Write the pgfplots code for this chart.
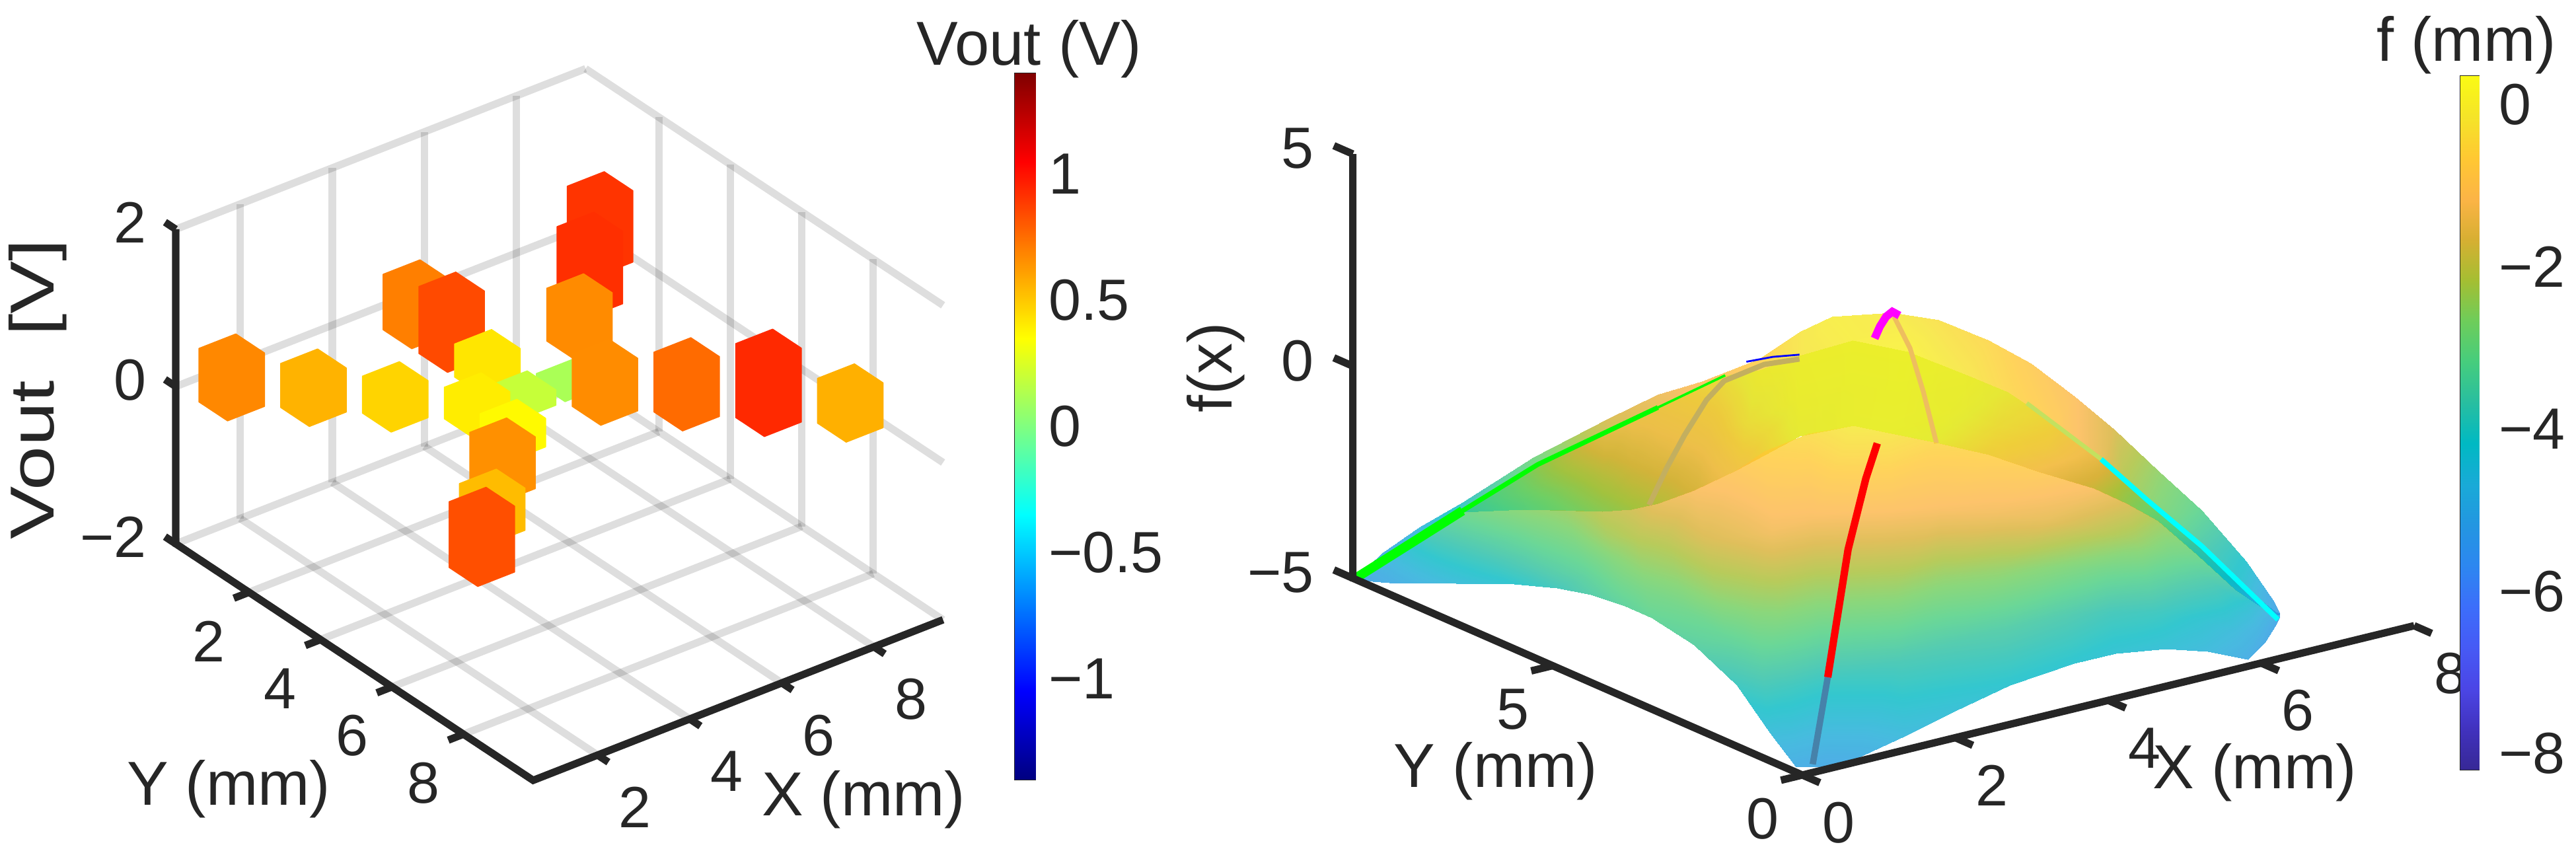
\documentclass[border=0pt]{standalone}
\usepackage{fontspec}
\setmainfont{Liberation Sans}
\usepackage{pgfplots}
\pgfplotsset{compat=1.18}
\usepgfplotslibrary{patchplots}
\definecolor{axc}{RGB}{38,38,38}
\newcommand\lbl{\fontsize{23.5}{24}\selectfont}
\newcommand\tck{\fontsize{22}{22}\selectfont}
\pgfplotsset{
  colormap={myjet}{
    rgb255=(0,0,128); rgb255=(0,0,255); rgb255=(0,128,255); rgb255=(0,255,255);
    rgb255=(128,255,128); rgb255=(255,255,0); rgb255=(255,128,0); rgb255=(255,0,0); rgb255=(128,0,0)},
  colormap={fmap}{
    rgb255=(55,40,150); rgb255=(65,50,190); rgb255=(75,70,230); rgb255=(70,90,245);
    rgb255=(60,110,250); rgb255=(45,135,240); rgb255=(35,150,225); rgb255=(25,170,215);
    rgb255=(0,185,195); rgb255=(40,190,160); rgb255=(70,205,125); rgb255=(110,205,90);
    rgb255=(165,190,50); rgb255=(215,175,50); rgb255=(252,180,70); rgb255=(255,200,50);
    rgb255=(245,228,40); rgb255=(250,250,20)},
  colormap={mmap}{
    rgb255=(55,40,150); rgb255=(65,50,190); rgb255=(75,70,230); rgb255=(70,90,245);
    rgb255=(60,110,250); rgb255=(45,135,240); rgb255=(35,150,225); rgb255=(25,170,215);
    rgb255=(0,185,195); rgb255=(40,190,160); rgb255=(70,205,125); rgb255=(110,205,90);
    rgb255=(165,190,50); rgb255=(215,175,50); rgb255=(240,190,70); rgb255=(235,205,50);
    rgb255=(225,235,45); rgb255=(235,240,30)},
  /pgfplots/table/pxmap/.style={
    x expr={0.0055472*(1.3386*\thisrow{dx}-928)+0.0126697*(1173-0.8233*\thisrow{dy}-64.2*(\thisrow{f}+5))},
    y expr={0.0193983*(1173-0.8233*\thisrow{dy}-64.2*(\thisrow{f}+5))-0.0047344*(1.3386*\thisrow{dx}-928)},
    z expr={\thisrow{f}}},
  frame3d/.style={
    clip=false, axis line style={draw=none}, major tick length=0pt,
    every tick label/.append style={font=\tck,text=axc},
    label style={font=\lbl,text=axc},
    unbounded coords=jump},
  axl/.style={draw=axc,line width=2.8pt,forget plot,no marks},
  fib/.style={forget plot,no marks,line cap=butt},
  cb/.style={scale only axis, clip=false, xmin=0,xmax=1,xtick=\empty,
    ytick pos=right, tick align=inside, major tick length=2.75pt,
    axis line style={draw=axc,line width=.4pt},
    tick style={draw=axc,line width=.4pt},
    every tick label/.append style={font=\tck,text=axc},
    title style={font=\lbl,text=axc,anchor=center}}
}
\newcommand\hexbar[3]{%
  \pgfmathsetmacro\xa{#1-0.4}\pgfmathsetmacro\xb{#1+0.4}%
  \pgfmathsetmacro\ya{#2-0.4}\pgfmathsetmacro\yb{#2+0.4}%
  \addplot3[patch,patch type=polygon,vertex count=6,shader=flat,point meta=explicit,forget plot]
    coordinates {(\xb,\ya,#3)[#3] (\xb,\yb,#3)[#3] (\xb,\yb,0)[#3] (\xa,\yb,0)[#3] (\xa,\ya,0)[#3] (\xa,\ya,#3)[#3]};
}
\begin{document}
\begin{tikzpicture}
\path[use as bounding box] (0,0) rectangle (974.75pt,322.75pt);
% ---------- left plot
\begin{axis}[frame3d, anchor=origin, at={(67.175pt,176.05pt)},
  x={(17.425pt,6.825pt)}, y={(-13.525pt,8.95pt)}, z={(0pt,29.75pt)}, y dir=reverse,
  xmin=0.6,xmax=9.5,ymin=-0.05,ymax=9.95,zmin=-2,zmax=2,
  xtick={2,4,6,8},ytick={2,4,6,8},ztick={-2,0,2},
  xticklabels={2,4,6,8},yticklabels={2,4,6,8},zticklabels={−2,0,2},
  grid=major, grid style={draw=black,opacity=0.13,line width=2.8pt},
  colormap name=myjet, point meta min=-1.4, point meta max=1.4,
  xticklabel style={anchor=center,xshift=14pt,yshift=-19.8pt},
  yticklabel style={anchor=center,xshift=-15.2pt,yshift=-18.5pt},
  zticklabel style={anchor=east,xshift=-7.5pt,yshift=2.5pt},
  xlabel={X (mm)}, ylabel={Y (mm)}, zlabel={\scalebox{1.28}[1]{Vout~~[V]}},
  xlabel style={at={(axis cs:4.71,13.9,-2)},anchor=center},
  ylabel style={at={(axis cs:-3.73,7.01,-2)},anchor=center},
  zlabel style={at={(axis cs:0.6,-3.91,-1.195)},anchor=center,rotate=0},
]
\hexbar{9}{1}{0.908}
\hexbar{8}{2}{0.923}
\hexbar{5}{1}{0.705}
\hexbar{7}{3}{0.67}
\hexbar{5}{2}{0.85}
\hexbar{5}{3}{0.42}
\hexbar{6}{4}{0.116}
\hexbar{5}{4}{0.195}
\hexbar{1}{1}{0.68}
\hexbar{6}{5}{0.668}
\hexbar{2}{2}{0.56}
\hexbar{7}{6}{0.76}
\hexbar{3}{3}{0.47}
\hexbar{8}{7}{0.94}
\hexbar{4}{4}{0.40}
\hexbar{9}{8}{0.57}
\hexbar{4}{5}{0.364}
\hexbar{3}{6}{0.657}
\hexbar{2}{7}{0.536}
\hexbar{1}{8}{0.836}
\addplot3[axl] coordinates {(0.6,-0.05,2)(0.6,-0.05,-2)(0.6,9.95,-2)(9.5,9.95,-2)};
\addplot3[axl] coordinates {(2,9.95,-2)(2,10.25,-2)(nan,nan,nan)(4,9.95,-2)(4,10.25,-2)(nan,nan,nan)(6,9.95,-2)(6,10.25,-2)(nan,nan,nan)(8,9.95,-2)(8,10.25,-2)};
\addplot3[axl] coordinates {(0.6,2,-2)(0.27,2,-2)(nan,nan,nan)(0.6,4,-2)(0.27,4,-2)(nan,nan,nan)(0.6,6,-2)(0.27,6,-2)(nan,nan,nan)(0.6,8,-2)(0.27,8,-2)};
\addplot3[axl] coordinates {(0.6,-0.05,2)(0.6,-0.35,2)(nan,nan,nan)(0.6,-0.05,0)(0.6,-0.35,0)(nan,nan,nan)(0.6,-0.05,-2)(0.6,-0.35,-2)};
\end{axis}
% ---------- left colour bar
\begin{axis}[cb, at={(384pt,27.75pt)}, anchor=south west, width=7.75pt, height=267.25pt,
  ymin=-1.4,ymax=1.4, ytick={-1,-0.5,0,0.5,1}, yticklabels={−1,−0.5,0,0.5,1},
  yticklabel style={anchor=west,xshift=1.5pt},
  colormap name=myjet, point meta min=-1.4, point meta max=1.4,
  title={Vout (V)}, title style={at={(axis description cs:0.7,1.0)},yshift=3.25pt}]
\addplot[patch,patch type=rectangle,shader=interp,point meta=y,forget plot]
  coordinates {(0,-1.4)(1,-1.4)(1,1.4)(0,1.4)};
\end{axis}
% ---------- right plot
\begin{axis}[frame3d, anchor=origin, at={(682pt,109.75pt)},
  x={(28.9375pt,7.0625pt)}, y={(-18.9pt,8.275pt)}, z={(0pt,16.05pt)},
  xmin=0,xmax=8,ymin=0,ymax=9,zmin=-5,zmax=5,
  xtick={0,2,4,6,8},ytick={0,5},ztick={-5,0,5},
  xticklabels={0,2,4,6,8},yticklabels={0,5},zticklabels={−5,0,5},
  colormap name=fmap, point meta min=-8.15, point meta max=0.35,
  xticklabel style={anchor=center,xshift=13.75pt,yshift=-18pt},
  yticklabel style={anchor=center,xshift=-15pt,yshift=-16.5pt},
  zticklabel style={anchor=east,xshift=-11.25pt,yshift=2pt},
  xlabel={X (mm)}, ylabel={Y (mm)}, zlabel={f(x)},
  xlabel style={at={(axis cs:3.85,-3.165,-5)},anchor=center},
  ylabel style={at={(axis cs:-2.5,2.31,-5)},anchor=center},
  zlabel style={at={(axis cs:0,11.75,-1.45)},anchor=center},
]
% outer (far) sheet: ridge, rim, silhouette
\addplot3[surf,shader=interp,opacity=0.8,mesh/rows=23,mesh/cols=3,mesh/ordering=x varies,point meta=\thisrow{f},forget plot]
 table[pxmap] {
dx dy f
188 1063 -5.2
188 1063 -5.2
188 1063 -5.2
228 1020 -4.8
228 1018 -4.9
218 1017 -5.0
270 980 -4.2
270 972 -4.4
260 969 -4.6
309 941 -3.6
309 939 -3.8
309 923 -4.0
378 936 -3.2
394 854 -2.9
389 840 -2.9
467 940 -2.7
470 795 -1.9
474 769 -1.7
500 937 -2.4
500 772 -1.7
502 747 -1.55
530 925 -2.2
530 749 -1.5
530 725 -1.4
571 901 -1.9
606 690 -1.0
580 701 -1.1
619 864 -1.2
645 680 -0.6
645 660 -0.7
690 802 -0.3
690 653 -0.2
690 610 -0.2
751 782 0.0
750 625 0.0
727 582 0.0
790 795 0.1
812 646 0.1
795 574 -0.1
842 813 0.0
880 690 -0.2
847 588 -0.3
904 836 -0.5
925 720 -0.5
904 626 -0.5
961 867 -1.0
980 780 -0.8
952 668 -0.8
1023 898 -1.8
1031 844 -1.5
1001 729 -1.1
1060 925 -2.4
1060 885 -2.2
1046 790 -1.7
1095 957 -3.0
1100 945 -2.8
1096 866 -2.5
1140 1020 -3.8
1145 1004 -3.6
1145 939 -3.2
1183 1085 -4.4
1190 1075 -4.3
1195 1032 -4.2
1225 1130 -5.1
1228 1125 -5.1
1225 1103 -5.1
1233 1130 -5.2
1233 1128 -5.2
1233 1127 -5.2
};
% middle sheet: ridge to rim
\addplot3[surf,shader=interp,opacity=0.8,mesh/rows=23,mesh/cols=3,mesh/ordering=x varies,point meta=\thisrow{f},colormap name=mmap,forget plot]
 table[pxmap] {
dx dy f
188 1063 -5.2
188 1063 -5.2
188 1063 -5.2
228 1020 -4.7
228 1019 -4.7
228 1018 -4.7
270 980 -4.1
270 976 -4.1
270 972 -4.1
309 941 -3.5
309 940 -3.5
309 939 -3.5
378 936 -3.0
386 895 -2.6
394 854 -2.3
467 940 -2.4
468 868 -1.9
470 795 -1.3
500 937 -2.2
500 855 -1.65
500 772 -1.1
530 925 -2.0
530 837 -1.4
530 749 -0.9
571 901 -1.6
588 795 -0.9
606 690 -0.3
619 864 -0.9
632 772 -0.3
645 680 0.1
690 802 -0.1
690 728 0.1
690 653 0.2
751 782 0.0
750 704 0.1
750 625 0.2
790 795 0.0
801 720 0.1
812 646 0.2
842 813 -0.2
861 752 0.0
880 690 0.1
904 836 -0.7
915 778 -0.4
925 720 -0.2
961 867 -1.2
970 823 -0.8
980 780 -0.6
1023 898 -1.8
1027 871 -1.6
1031 844 -1.4
1060 925 -2.4
1060 905 -2.3
1060 885 -2.1
1095 957 -3.0
1098 951 -2.9
1100 945 -2.8
1140 1020 -3.8
1143 1012 -3.7
1145 1004 -3.6
1183 1085 -4.4
1186 1080 -4.3
1190 1075 -4.3
1225 1130 -5.1
1226 1128 -5.1
1228 1125 -5.1
1233 1130 -5.2
1233 1128 -5.2
1233 1127 -5.2
};
% grey fibres seen through the surface
\addplot3[fib,draw={rgb,255:red,195;green,175;blue,95},line width=2pt] table[pxmap] {
dx dy f
520 928 -2
540 860 -2
560 800 -2
585 735 -2
605 700 -2
650 670 -2
690 660 -2
};
\addplot3[fib,draw={rgb,255:red,238;green,190;blue,95},line width=1.8pt] table[pxmap] {
dx dy f
845 815 -2
830 720 -2
815 640 -2
797 582 -2
};
% front sheet: lower edge to ridge
\addplot3[surf,shader=interp,opacity=0.8,mesh/rows=25,mesh/cols=5,mesh/ordering=x varies,point meta=\thisrow{f},forget plot]
 table[pxmap] {
dx dy f
188 1066 -5.2
188 1065 -5.2
188 1065 -5.2
188 1064 -5.2
188 1063 -5.2
226 1071 -5.0
226 1058 -4.9
227 1046 -4.8
228 1033 -4.7
228 1020 -4.6
302 1073 -4.5
294 1050 -4.3
286 1026 -4.1
278 1003 -3.9
270 980 -3.7
359 1073 -4.2
346 1040 -3.9
334 1007 -3.6
322 974 -3.3
309 941 -3.0
416 1081 -3.8
406 1045 -3.5
397 1008 -3.2
388 972 -2.9
378 936 -2.6
454 1093 -3.5
447 1054 -3.3
440 1016 -3.0
432 977 -2.7
425 938 -2.4
492 1114 -3.3
486 1070 -3.0
480 1027 -2.7
473 984 -2.3
467 940 -2.0
523 1136 -3.2
517 1086 -2.9
512 1036 -2.5
506 987 -2.1
500 937 -1.8
571 1185 -3.4
561 1120 -3.0
550 1055 -2.5
540 990 -2.0
530 925 -1.5
619 1260 -3.9
607 1170 -3.2
595 1080 -2.4
583 991 -1.7
571 901 -1.2
657 1347 -4.5
648 1226 -3.5
638 1105 -2.5
628 985 -1.5
619 864 -0.9
686 1409 -5.0
677 1264 -3.9
668 1120 -2.6
659 975 -1.3
650 830 -0.6
720 1410 -5.1
715 1257 -4.0
710 1104 -2.6
705 950 -1.2
700 797 -0.4
751 1397 -5.0
751 1243 -3.9
751 1090 -2.5
751 936 -1.1
751 782 -0.1
809 1353 -4.6
804 1213 -3.7
800 1074 -2.4
795 934 -1.1
790 795 -0.2
866 1307 -4.4
860 1183 -3.6
854 1060 -2.5
848 936 -1.2
842 813 -0.5
928 1260 -4.2
922 1154 -3.5
916 1048 -2.5
910 942 -1.3
904 836 -0.6
1000 1219 -4.2
990 1131 -3.6
980 1043 -2.7
971 955 -1.5
961 867 -0.8
1047 1201 -4.3
1041 1125 -3.8
1035 1050 -3.0
1029 974 -2.0
1023 898 -1.2
1104 1193 -4.4
1093 1126 -3.9
1082 1059 -3.2
1071 992 -2.4
1060 925 -1.7
1152 1198 -4.6
1138 1138 -4.2
1124 1078 -3.6
1109 1017 -2.9
1095 957 -2.3
1197 1212 -5.0
1183 1164 -4.6
1168 1116 -4.1
1154 1068 -3.6
1140 1020 -3.0
1216 1180 -5.1
1208 1156 -4.8
1200 1132 -4.5
1191 1109 -4.2
1183 1085 -3.8
1229 1148 -5.2
1228 1144 -5.1
1227 1139 -5.0
1226 1135 -4.9
1225 1130 -4.8
1233 1135 -5.2
1233 1134 -5.2
1233 1133 -5.2
1233 1131 -5.2
1233 1130 -5.2
};
% coloured fibres
\addplot3[fib,draw={rgb,255:red,70;green,130;blue,170},line width=2.4pt] table[pxmap] {
dx dy f
705 1405 -2
722 1245 -2
};
\addplot3[fib,draw=red,line width=2.8pt] table[pxmap] {
dx dy f
722 1245 -2
745 1010 -2
765 880 -2
778 815 -2
};
\addplot3[fib,draw={rgb,255:red,255;green,0;blue,255},line width=3pt] table[pxmap] {
dx dy f
775 622 -2
781 600 -2
788 582 -2
795 573 -2
803 580 -2
};
\addplot3[fib,draw={rgb,255:red,0;green,0;blue,255},line width=0.7pt] table[pxmap] {
dx dy f
630 665 -2
660 656 -2
690 652 -2
};
\addplot3[fib,draw={rgb,255:red,0;green,255;blue,0},line width=3.5pt] table[pxmap] {
dx dy f
188 1063 -2
309 939 -2
};
\addplot3[fib,draw={rgb,255:red,0;green,255;blue,0},line width=1.8pt] table[pxmap] {
dx dy f
309 939 -2
394 854 -2
530 749 -2
};
\addplot3[fib,draw={rgb,255:red,0;green,255;blue,0},line width=0.9pt] table[pxmap] {
dx dy f
530 749 -2
606 690 -2
};
\addplot3[fib,draw={rgb,255:red,0;green,255;blue,255},line width=1.9pt] table[pxmap] {
dx dy f
1231 1139 -2
1145 1004 -2
1083 919 -2
1031 844 -2
};
\addplot3[fib,draw={rgb,255:red,195;green,225;blue,95},line width=1.6pt] table[pxmap] {
dx dy f
1031 844 -2
947 741 -2
};
\addplot3[axl] coordinates {(0,9,5)(0,9,-5)(0,0,-5)(8,0,-5)};
\addplot3[axl] coordinates {(0,0,-5)(0,-0.35,-5)(nan,nan,nan)(2,0,-5)(2,-0.35,-5)(nan,nan,nan)(4,0,-5)(4,-0.35,-5)(nan,nan,nan)(6,0,-5)(6,-0.35,-5)(nan,nan,nan)(8,0,-5)(8,-0.35,-5)};
\addplot3[axl] coordinates {(0,0,-5)(-0.28,0,-5)(nan,nan,nan)(0,5,-5)(-0.28,5,-5)};
\addplot3[axl] coordinates {(0,9,5)(0,9.38,5)(nan,nan,nan)(0,9,0)(0,9.38,0)(nan,nan,nan)(0,9,-5)(0,9.38,-5)};
\end{axis}
% ---------- right colour bar
\begin{axis}[cb, at={(931pt,31.5pt)}, anchor=south west, width=7pt, height=262.5pt,
  ymin=-8.2,ymax=0.35, ytick={-8,-6,-4,-2,0}, yticklabels={−8,−6,−4,−2,0},
  yticklabel style={anchor=west,xshift=4pt},
  colormap name=fmap, point meta min=-8.15, point meta max=0.35,
  title={f (mm)}, title style={at={(axis description cs:0.32,1.0)},yshift=5.75pt}]
\addplot[patch,patch type=rectangle,shader=interp,point meta=y,forget plot]
  coordinates {(0,-8.2)(1,-8.2)(1,0.35)(0,0.35)};
\end{axis}
\end{tikzpicture}
\end{document}
